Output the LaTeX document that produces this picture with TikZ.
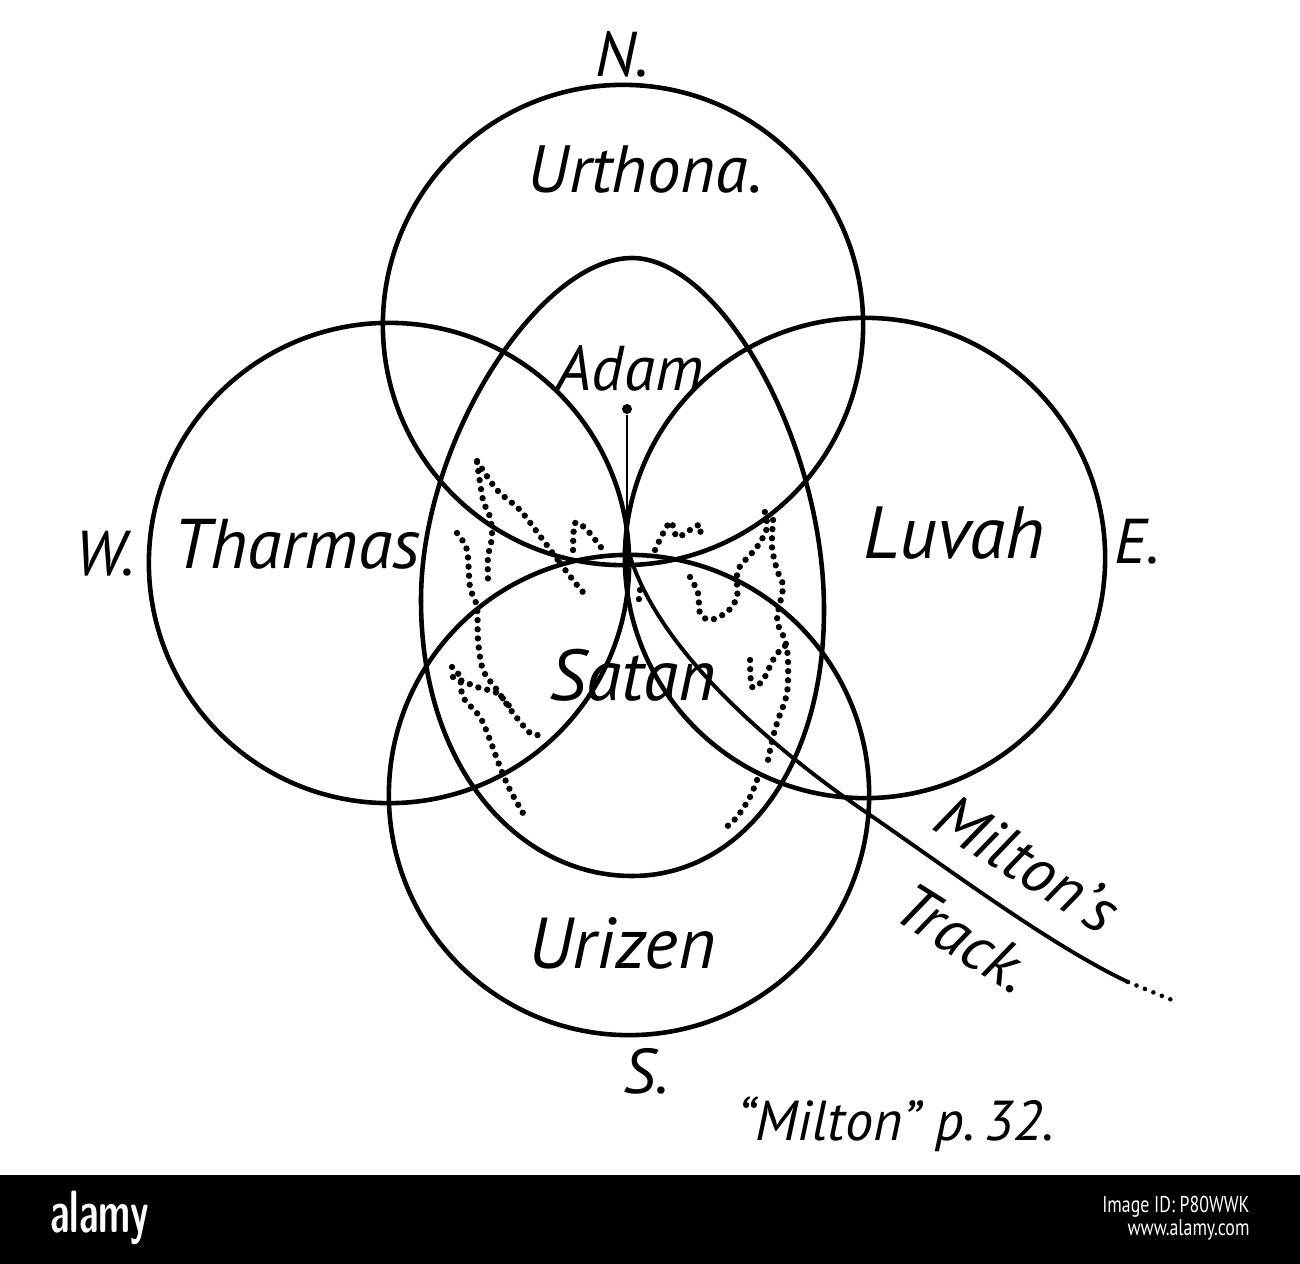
\documentclass[tikz,border=0pt]{standalone}
\usepackage{fontspec}
\setmainfont{PT Sans}
\usetikzlibrary{positioning}
\tikzset{
    ring/.style={circle, draw=black, line width=1.3pt, minimum size=4.8cm, inner sep=0pt},
    egg/.style={draw=black, line width=1.3pt},
    zoa/.style={font=\fontsize{18}{20}\selectfont\itshape, inner sep=0pt, anchor=base},
    track/.style={draw=black, line width=1.1pt},
    vortex/.style={line width=1.8pt, line cap=round, dash pattern=on 0pt off 2.6pt},
    dotnode/.style={circle, fill=black, inner sep=0pt, minimum size=0.1cm},
    stamp/.style={font=\fontsize{17}{18}\selectfont\sffamily\bfseries, text=white, inner sep=0pt, xscale=0.62},
    stampid/.style={font=\fontsize{6.5}{8}\selectfont, text=white, inner sep=0pt, xscale=0.78, anchor=east},
}

\begin{document}
\begin{tikzpicture}[x=0.01cm, y=-0.01cm]
    \useasboundingbox (0,0) rectangle (1300,1264);
    \fill[black] (0,1175) rectangle (1300,1264);

    \node[ring] (urthona) at (623,325) {};
    \node[ring] (tharmas) at (389,563) {};
    \node[ring] (luvah) at (865,558) {};
    \node[ring] (urizen) at (629,795) {};

    \draw[egg] (632,258) .. controls (720,258) and (824,440) .. (824,610)
        .. controls (824,770) and (740,876) .. (632,876)
        .. controls (520,876) and (421,770) .. (421,600)
        .. controls (421,440) and (540,258) .. (632,258);

    % left vortex
    \draw[vortex] plot[smooth] coordinates {(477,461) (497,490) (520,510) (543,540) (560,563)};
    \draw[vortex] plot[smooth] coordinates {(477,462) (483,500) (490,517) (492,537) (488,557) (488,583)};
    \draw[vortex] plot[smooth] coordinates {(457,533) (467,550) (470,587) (477,607) (478,640) (483,670) (497,690) (513,713) (530,733) (538,735)};
    \draw[vortex] plot[smooth] coordinates {(452,667) (460,677) (463,697) (480,717) (490,740) (500,767) (510,790) (527,820)};
    \draw[vortex] plot[smooth] coordinates {(453,677) (477,687) (497,693) (510,707)};
    \draw[vortex] plot[smooth] coordinates {(573,550) (575,523) (587,530) (603,550)};
    \draw[vortex] plot[smooth] coordinates {(560,563) (573,580) (587,597)};
    % right vortex
    \draw[vortex] plot[smooth] coordinates {(655,550) (670,522) (677,537) (690,530) (700,525) (700,538)};
    \draw[vortex] plot[smooth] coordinates {(690,577) (698,593) (700,613) (710,620) (727,612) (737,597) (738,570) (757,547) (767,527) (763,505)};
    \draw[vortex] plot[smooth] coordinates {(773,520) (772,547) (777,570) (783,587) (777,620) (785,640) (788,660) (787,693) (778,720) (773,737) (768,760)};
    \draw[vortex] plot[smooth] coordinates {(750,660) (752,687) (763,680) (773,660) (783,647) (790,645)};
    \draw[vortex] plot[smooth] coordinates {(757,780) (750,797) (737,817) (723,830)};
    \draw[vortex] plot[smooth] coordinates {(640,590) (638,607)};

    \node[dotnode] (adamdot) at (627,409) {};
    \coordinate (bend) at (627,545);
    \coordinate (trackend) at (1128,982);
    \coordinate (trackfar) at (1172,1000);
    \draw[track, line width=0.8pt] (adamdot) -- (bend);
    \draw[track] (bend) .. controls (650,640) and (760,740) .. (870,815)
        .. controls (950,870) and (1050,945) .. (trackend);
    \draw[vortex, line width=1.3pt] (trackend) -- (trackfar);

    \node[zoa] (north) at (622,77) {N.};
    \node[zoa, font=\fontsize{19}{20}\selectfont\itshape] (urthonatxt) at (645,193) {Urthona.};
    \node[zoa] (adam) at (630,390) {Adam};
    \node[zoa] (west) at (105,575) {W.};
    \node[zoa, font=\fontsize{20}{22}\selectfont\itshape] (tharmastxt) at (297,568) {Tharmas};
    \node[zoa, font=\fontsize{21}{22}\selectfont\itshape] (luvahtxt) at (954,558) {Luvah};
    \node[zoa] (east) at (1137,563) {E.};
    \node[zoa, font=\fontsize{20.5}{22}\selectfont\itshape] (satan) at (633,700) {Satan};
    \node[zoa, font=\fontsize{20.5}{22}\selectfont\itshape] (urizentxt) at (622,968) {Urizen};
    \node[zoa] (south) at (646,1093) {S.};
    \node[zoa, anchor=center, rotate=-32] (miltons) at (1028,863) {Milton's};
    \node[zoa, anchor=center, rotate=-32] (tracktxt) at (964,938) {Track.};
    \node[zoa, font=\fontsize{16}{20}\selectfont\itshape] (source) at (896,1140) {``Milton'' p.\,32.};

    \node[stamp, anchor=west] (alamy) at (50,1218) {alamy};
    \node[stampid] (imageid) at (1250,1207) {Image ID: P80WWK};
    \node[stampid] (site) at (1250,1230) {www.alamy.com};
\end{tikzpicture}
\end{document}
